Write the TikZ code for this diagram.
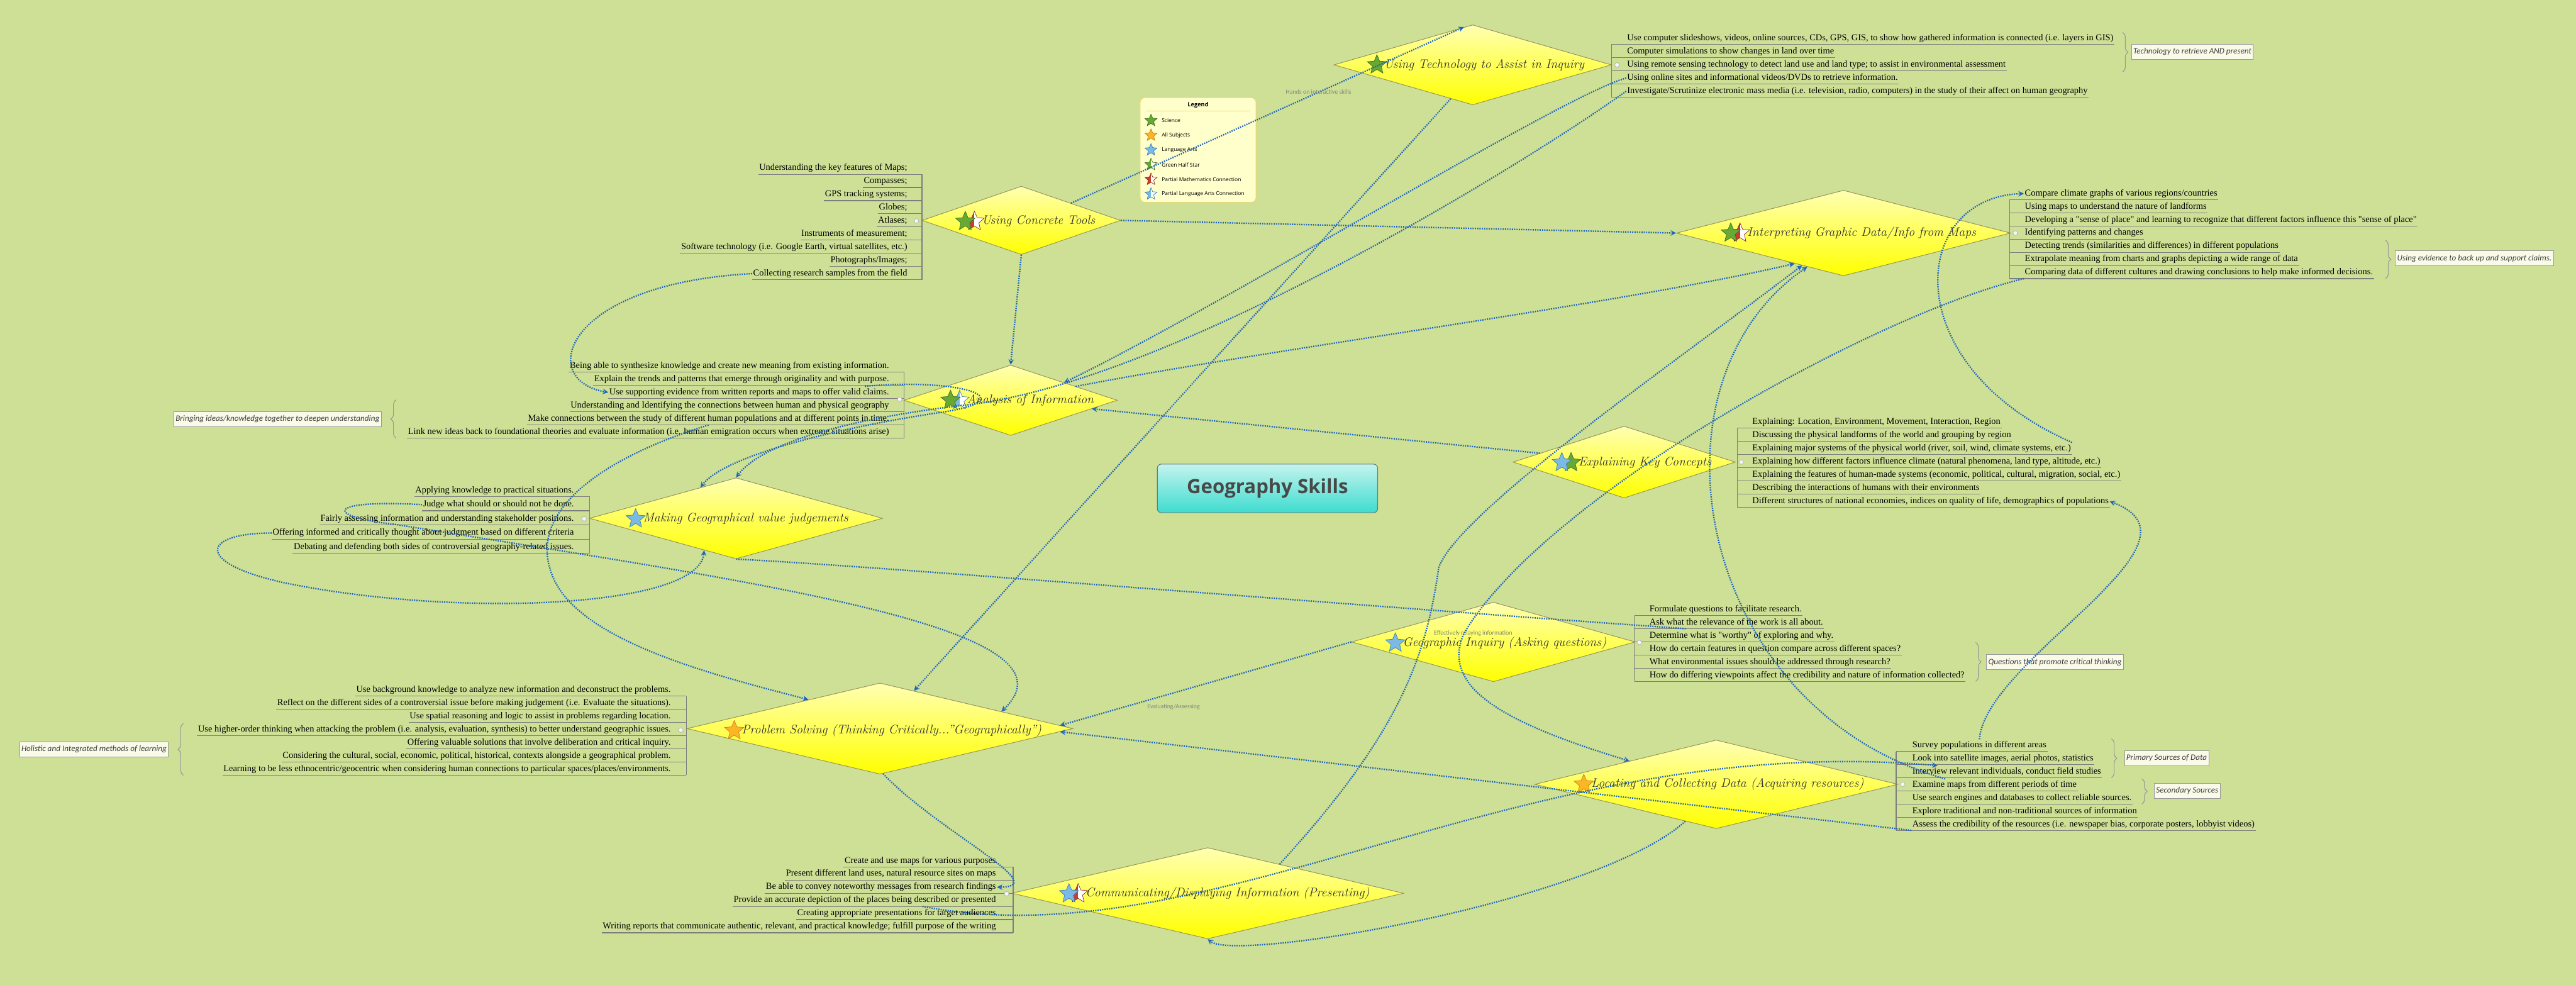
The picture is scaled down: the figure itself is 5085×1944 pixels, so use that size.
\documentclass[tikz,border=0pt]{standalone}
\usepackage{fontspec}
\newfontfamily\itemfont{Liberation Serif}
\newfontfamily\notefont{Carlito}
\newfontfamily\headfont{Open Sans}
\usepackage{tikz}
\usetikzlibrary{arrows,positioning,shapes.geometric,decorations.pathreplacing}

\definecolor{paper}{RGB}{206,224,150}
\definecolor{relblue}{RGB}{30,100,185}
\definecolor{topicedge}{RGB}{150,150,90}
\definecolor{linegray}{RGB}{125,125,125}
\definecolor{notefill}{RGB}{250,250,232}
\definecolor{relgray}{RGB}{128,134,118}
\definecolor{sgreen}{RGB}{104,168,52}
\definecolor{sgreenD}{RGB}{58,112,30}
\definecolor{sred}{RGB}{200,62,52}
\definecolor{sredD}{RGB}{140,40,30}
\definecolor{sblue}{RGB}{122,186,228}
\definecolor{sblueD}{RGB}{60,128,180}
\definecolor{sgold}{RGB}{250,182,36}
\definecolor{sgoldD}{RGB}{205,125,20}
\definecolor{legfill}{RGB}{255,255,204}
\definecolor{legedge}{RGB}{234,214,120}
\definecolor{rootedge}{RGB}{105,125,120}
\definecolor{roottop}{RGB}{196,244,238}
\definecolor{rootbot}{RGB}{62,220,207}
\definecolor{roottext}{RGB}{72,72,72}

\begin{document}
\begin{tikzpicture}[x=.02cm,y=-.02cm,>=stealth,
 topic/.style={diamond,draw=topicedge,line width=.7pt,inner sep=0pt,
   top color=yellow!30!white,bottom color=yellow},
 ttl/.style={font=\itshape\fontsize{14}{16}\selectfont,text=black!80,inner sep=1pt},
 item/.style={font=\itemfont\fontsize{10.2}{12}\selectfont,inner xsep=1pt,inner ysep=2pt,
   text height=7pt,text depth=2.2pt},
 uline/.style={draw=linegray,line width=.8pt},
 fold/.style={circle,draw=gray!70,fill=blue!4,inner sep=0pt,minimum size=.18cm,line width=.4pt},
 rel/.style={->,draw=relblue,line width=1.7pt,dash pattern=on 1.3pt off 1.3pt},
 rlab/.style={font=\notefont\fontsize{7}{8}\selectfont,text=relgray,inner sep=1pt},
 note/.style={draw=gray!80,fill=notefill,line width=.6pt,
   font=\notefont\itshape\fontsize{9.3}{11}\selectfont,text=black!75,minimum height=.6cm,inner xsep=2pt},
 brc/.style={draw=gray!80,line width=.8pt,decorate,decoration={brace,amplitude=6pt}},
 icon/.style={star,star points=5,star point ratio=2.2,minimum size=.8cm,inner sep=0pt,line width=.5pt},
 gstar/.style={icon,fill=sgreen,draw=sgreenD},
 ostar/.style={icon,fill=sgold,draw=sgoldD},
 bstar/.style={icon,fill=sblue,draw=sblueD},
 half/.style 2 args={icon,fill=white,draw=#2,path picture={\fill[#1] (path picture bounding box.south west) rectangle (path picture bounding box.north);}},
 ghalf/.style={half={sgreen}{sgreenD}},
 rhalf/.style={half={sred}{sredD}},
 bhalf/.style={half={sblue}{sblueD}}]
\useasboundingbox (0,0) rectangle (5085,1944);
\fill[paper] (0,0) rectangle (5085,1944);

\node[draw=rootedge,line width=.8pt,rounded corners=.16cm,top color=roottop,bottom color=rootbot,
  minimum width=8.7cm,minimum height=1.92cm,font=\headfont\bfseries\fontsize{22}{26}\selectfont,
  text=roottext] (root) at (2502,964) {Geography Skills};

\node[draw=legedge,fill=legfill,line width=.8pt,rounded corners=.2cm,
  minimum width=4.58cm,minimum height=4.14cm] (legend) at (2365,296) {};
\node[font=\headfont\bfseries\fontsize{6.5}{8}\selectfont] (legT) at (2365,208) {Legend};
\draw[draw=legedge,line width=.6pt] (2262,219) -- (2468,219);
\foreach \s/\txt [count=\i] in {gstar/Science,ostar/All Subjects,bstar/Language Arts,
  ghalf/Green Half Star,rhalf/Partial Mathematics Connection,bhalf/Partial Language Arts Connection}
 {\node[\s,minimum size=.5cm] (lg\i) at (2272,209+29*\i) {};
  \node[font=\headfont\fontsize{6}{7}\selectfont,right=4pt of lg\i] {\txt};}

% technology
\node[topic,minimum width=10.96cm,minimum height=3.16cm] (tech) at (2907,128) {};
\node[ttl] (techT) at (2930,128) {Using Technology to Assist in Inquiry};
\node[gstar,left=0pt of techT] (techS) {};
\coordinate (tbus) at (3181,128);
\foreach \txt [count=\i] in {
 {Use computer slideshows, videos, online sources, CDs, GPS, GIS, to show how gathered information is connected (i.e. layers in GIS)},
 {Computer simulations to show changes in land over time},
 {Using remote sensing technology to detect land use and land type; to assist in environmental assessment},
 {Using online sites and informational videos/DVDs to retrieve information.},
 {Investigate/Scrutinize electronic mass media (i.e. television, radio, computers) in the study of their affect on human geography}}
 {\node[item,anchor=south west] (te\i) at (3210,62+26*\i) {\txt};
  \draw[uline] (tbus |- te\i.south) -- (te\i.south east);}
\draw[uline] (tbus |- te1.south) -- (tbus |- te5.south);
\node[fold] at (3192,128) {};
\draw[brc] (4190,64) -- (4190,142);
\node[note,anchor=west] (teN) at (4207,102) {Technology to retrieve AND present};

% concrete tools
\node[topic,minimum width=7.84cm,minimum height=2.7cm] (tools) at (2016,435) {};
\node[ttl] (toolsT) at (2050,437) {Using Concrete Tools};
\node[rhalf,left=0pt of toolsT] (toolsS2) {};
\node[gstar,left=-4pt of toolsS2] (toolsS1) {};
\coordinate (tobus) at (1820,435);
\foreach \txt [count=\i] in {
 {Understanding the key features of Maps;},{Compasses;},{GPS tracking systems;},{Globes;},
 {Atlases;},{Instruments of measurement;},
 {Software technology (i.e. Google Earth, virtual satellites, etc.)},
 {Photographs/Images;},{Collecting research samples from the field}}
 {\node[item,anchor=south east] (to\i) at (1793,318+26*\i) {\txt};
  \draw[uline] (to\i.south west) -- (tobus |- to\i.south);}
\draw[uline] (tobus |- to1.south) -- (tobus |- to9.south);
\node[fold] at (1809,436) {};

% interpreting
\node[topic,minimum width=13.2cm,minimum height=3.38cm] (interp) at (3639,460) {};
\node[ttl] (interpT) at (3675,460) {Interpreting Graphic Data/Info from Maps};
\node[rhalf,left=0pt of interpT] (interpS2) {};
\node[gstar,left=-4pt of interpS2] (interpS1) {};
\coordinate (ipbus) at (3967,460);
\foreach \txt [count=\i] in {
 {Compare climate graphs of various regions/countries},
 {Using maps to understand the nature of landforms},
 {Developing a "sense of place" and learning to recognize that different factors influence this "sense of place"},
 {Identifying patterns and changes},
 {Detecting trends (similarities and differences) in different populations},
 {Extrapolate meaning from charts and graphs depicting a wide range of data},
 {Comparing data of different cultures and drawing conclusions to help make informed decisions.}}
 {\node[item,anchor=south west] (ip\i) at (3995,368+26*\i) {\txt};
  \draw[uline] (ipbus |- ip\i.south) -- (ip\i.south east);}
\draw[uline] (ipbus |- ip1.south) -- (ipbus |- ip7.south);
\node[fold] at (3978,460) {};
\draw[brc] (4709,474) -- (4709,550);
\node[note,anchor=west] (ipN) at (4728,510) {Using evidence to back up and support claims.};

% analysis
\node[topic,minimum width=8.42cm,minimum height=2.78cm] (analysis) at (1995,790) {};
\node[ttl] (analysisT) at (2034,790) {Analysis of Information};
\node[bhalf,left=0pt of analysisT] (analysisS2) {};
\node[gstar,left=-4pt of analysisS2] (analysisS1) {};
\coordinate (anbus) at (1785,790);
\foreach \txt [count=\i] in {
 {Being able to synthesize knowledge and create new meaning from existing information.},
 {Explain the trends and patterns that emerge through originality and with purpose.},
 {Use supporting evidence from written reports and maps to offer valid claims.},
 {Understanding and Identifying the connections between human and physical geography},
 {Make connections between the study of different human populations and at different points in time.},
 {Link new ideas back to foundational theories and evaluate information (i.e. human emigration occurs when extreme situations arise)}}
 {\node[item,anchor=south east] (an\i) at (1757,707.8+26.2*\i) {\txt};
  \draw[uline] (an\i.south west) -- (anbus |- an\i.south);}
\draw[uline] (anbus |- an1.south) -- (anbus |- an6.south);
\node[fold] at (1776,788) {};
\draw[brc] (782,865) -- (782,789);
\node[note,anchor=east] (anN) at (753,827) {Bringing ideas/knowledge together to deepen understanding};

% key concepts
\node[topic,minimum width=8.78cm,minimum height=2.84cm] (explain) at (3206,912) {};
\node[ttl] (explainT) at (3247,913) {Explaining Key Concepts};
\node[gstar,left=0pt of explainT] (explainS2) {};
\node[bstar,left=-4pt of explainS2] (explainS1) {};
\coordinate (exbus) at (3429,912);
\foreach \txt [count=\i] in {
 {Explaining: Location, Environment, Movement, Interaction, Region},
 {Discussing the physical landforms of the world and grouping by region},
 {Explaining major systems of the physical world (river, soil, wind, climate systems, etc.)},
 {Explaining how different factors influence climate (natural phenomena, land type, altitude, etc.)},
 {Explaining the features of human-made systems (economic, political, cultural, migration, social, etc.)},
 {Describing the interactions of humans with their environments},
 {Different structures of national economies, indices on quality of life, demographics of populations}}
 {\node[item,anchor=south west] (ex\i) at (3457,818.9+26.1*\i) {\txt};
  \draw[uline] (exbus |- ex\i.south) -- (ex\i.south east);}
\draw[uline] (exbus |- ex1.south) -- (exbus |- ex7.south);
\node[fold] at (3437,912) {};

% value judgements
\node[topic,minimum width=11.58cm,minimum height=3.2cm] (judge) at (1453,1023) {};
\node[ttl] (judgeT) at (1472,1024) {Making Geographical value judgements};
\node[bstar,left=0pt of judgeT] (judgeS) {};
\coordinate (jubus) at (1164,1023);
\foreach \txt [count=\i] in {
 {Applying knowledge to practical situations.},
 {Judge what should or should not be done.},
 {Fairly assessing information and understanding stakeholder positions.},
 {Offering informed and critically thought about judgment based on different criteria},
 {Debating and defending both sides of controversial geography-related issues.}}
 {\node[item,anchor=south east] (ju\i) at (1135,952+28*\i) {\txt};
  \draw[uline] (ju\i.south west) -- (jubus |- ju\i.south);}
\draw[uline] (jubus |- ju1.south) -- (jubus |- ju5.south);
\node[fold] at (1153,1024) {};

% inquiry
\node[topic,minimum width=11.2cm,minimum height=3.14cm] (inquiry) at (2948,1267) {};
\node[ttl] (inquiryT) at (2970,1269) {Geographic Inquiry (Asking questions)};
\node[bstar,left=0pt of inquiryT] (inquiryS) {};
\coordinate (iqbus) at (3226,1267);
\foreach \txt [count=\i] in {
 {Formulate questions to facilitate research.},
 {Ask what the relevance of the work is all about.},
 {Determine what is "worthy" of exploring and why.},
 {How do certain features in question compare across different spaces?},
 {What environmental issues should be addressed through research?},
 {How do differing viewpoints affect the credibility and nature of information collected?}}
 {\node[item,anchor=south west] (iq\i) at (3254,1189+26*\i) {\txt};
  \draw[uline] (iqbus |- iq\i.south) -- (iq\i.south east);}
\draw[uline] (iqbus |- iq1.south) -- (iqbus |- iq6.south);
\node[fold] at (3236,1268) {};
\draw[brc] (3900,1268) -- (3900,1345);
\node[note,anchor=west] (iqN) at (3921,1307) {Questions that promote critical thinking};

% problem solving
\node[topic,minimum width=15.24cm,minimum height=3.6cm] (problem) at (1737,1438) {};
\node[ttl] (problemT) at (1760,1442) {Problem Solving (Thinking Critically..."Geographically")};
\node[ostar,left=0pt of problemT] (problemS) {};
\coordinate (psbus) at (1355,1438);
\foreach \txt [count=\i] in {
 {Use background knowledge to analyze new information and deconstruct the problems.},
 {Reflect on the different sides of a controversial issue before making judgement (i.e. Evaluate the situations).},
 {Use spatial reasoning and logic to assist in problems regarding location.},
 {Use higher-order thinking when attacking the problem (i.e. analysis, evaluation, synthesis) to better understand geographic issues.},
 {Offering valuable solutions that involve deliberation and critical inquiry.},
 {Considering the cultural, social, economic, political, historical, contexts alongside a geographical problem.},
 {Learning to be less ethnocentric/geocentric when considering human connections to particular spaces/places/environments.}}
 {\node[item,anchor=south east] (ps\i) at (1326,1348+26*\i) {\txt};
  \draw[uline] (ps\i.south west) -- (psbus |- ps\i.south);}
\draw[uline] (psbus |- ps1.south) -- (psbus |- ps7.south);
\node[fold] at (1344,1441) {};
\draw[brc] (362,1530) -- (362,1428);
\node[note,anchor=east] (psN) at (333,1479) {Holistic and Integrated methods of learning};

% locating data
\node[topic,minimum width=14.34cm,minimum height=3.5cm] (locate) at (3388,1548) {};
\node[ttl] (locateT) at (3410,1548) {Locating and Collecting Data (Acquiring resources)};
\node[ostar,left=0pt of locateT] (locateS) {};
\coordinate (lcbus) at (3743,1548);
\foreach \txt [count=\i] in {
 {Survey populations in different areas},
 {Look into satellite images, aerial photos, statistics},
 {Interview relevant individuals, conduct field studies},
 {Examine maps from different periods of time},
 {Use search engines and databases to collect reliable sources.},
 {Explore traditional and non-traditional sources of information},
 {Assess the credibility of the resources (i.e. newspaper bias, corporate posters, lobbyist videos)}}
 {\node[item,anchor=south west] (lc\i) at (3773,1457+26*\i) {\txt};
  \draw[uline] (lcbus |- lc\i.south) -- (lc\i.south east);}
\draw[uline] (lcbus |- lc1.south) -- (lcbus |- lc7.south);
\node[fold] at (3756,1548) {};
\draw[brc] (4168,1458) -- (4168,1535);
\node[note,anchor=west] (lcN1) at (4193,1496) {Primary Sources of Data};
\draw[brc] (4228,1537) -- (4228,1587);
\node[note,anchor=west] (lcN2) at (4252,1561) {Secondary Sources};

% communicating
\node[topic,minimum width=15.48cm,minimum height=3.6cm] (comm) at (2384,1763) {};
\node[ttl] (commT) at (2423,1764) {Communicating/Displaying Information (Presenting)};
\node[rhalf,left=0pt of commT] (commS2) {};
\node[bstar,left=-4pt of commS2] (commS1) {};
\coordinate (cmbus) at (2000,1763);
\foreach \txt [count=\i] in {
 {Create and use maps for various purposes},
 {Present different land uses, natural resource sites on maps},
 {Be able to convey noteworthy messages from research findings},
 {Provide an accurate depiction of the places being described or presented},
 {Creating appropriate presentations for target audiences},
 {Writing reports that communicate authentic, relevant, and practical knowledge; fulfill purpose of the writing}}
 {\node[item,anchor=south east] (cm\i) at (1968,1685+26*\i) {\txt};
  \draw[uline] (cm\i.south west) -- (cmbus |- cm\i.south);}
\draw[uline] (cmbus |- cm1.south) -- (cmbus |- cm6.south);
\node[fold] at (1987,1764) {};

% relationships
\draw[rel] (tools.north east) -- node[rlab,pos=.63] {Hands on interactive skills} (tech.103);
\draw[rel] (tools.east) -- (interp.west);
\draw[rel] (tools.south) -- (analysis.north);
\draw[rel] (to9.west) .. controls (1110,560) and (1060,750) .. (an3.west);
\draw[rel] (explain.174) -- (analysis.-6);
\draw[rel] (tech.237) -- (problem.48);
\draw[rel] (te4.west) .. controls (3080,190) and (2420,600) .. (analysis.north east);
\draw[rel] (te5.west) .. controls (3000,330) and (2300,760) .. (1900,800)
  .. controls (1650,830) and (1500,880) .. (judge.north);
\draw[rel] (an3.3.4) .. controls (1900,745) and (2030,790) .. (1850,815)
  .. controls (1650,845) and (1430,900) .. (judge.139);
\draw[rel] (an5.south) .. controls (1200,900) and (1050,1000) .. (1085,1120)
  .. controls (1120,1260) and (1400,1330) .. (problem.158.5);
\draw[rel] (analysis.12) .. controls (2500,690) and (3200,600) .. (interp.212);
\draw[rel] (comm.22) .. controls (2760,1450) and (2815,1300) .. (2840,1120)
  .. controls (2880,1010) and (3300,720) .. (interp.218);
\draw[rel] (lc4.173) .. controls (3350,1400) and (3230,760) .. (interp.223);
\draw[rel] (ip7.south west) .. controls (3700,620) and (3050,980) .. (2890,1250)
  node[rlab,xshift=.36cm] {Effectively relaying information}
  .. controls (2840,1360) and (2980,1430) .. (locate.165.5);
\draw[rel] (lc1.north) .. controls (3920,1300) and (4380,1070) .. (ex7.east);
\draw[rel] (ex3.north east) .. controls (3740,720) and (3770,390) .. (ip1.west);
\draw[rel] (cm4.-6) .. controls (2400,1900) and (3000,1440) .. (lc3.175);
\draw[rel] (inquiry.west) -- node[rlab,pos=.61,yshift=-.56cm] {Evaluating/Assessing} (problem.1.3);
\draw[rel] (lc7.182) -- (problem.-1.3);
\draw[rel] (ju2.west) .. controls (640,985) and (640,1020) .. (780,1035)
  .. controls (1500,1150) and (2150,1240) .. (problem.8);
\draw[rel] (ju4.west) .. controls (400,1052) and (380,1110) .. (560,1150)
  .. controls (900,1220) and (1380,1200) .. (judge.225);
\draw[rel,-] (judge.south) .. controls (1700,1115) and (2600,1190) .. (iq2.187);
\draw[rel] (problem.-86) .. controls (1850,1640) and (2080,1750) .. (cm3.east);
\draw[rel] (locate.230) .. controls (3150,1780) and (2440,1900) .. (comm.south);
\end{tikzpicture}
\end{document}
